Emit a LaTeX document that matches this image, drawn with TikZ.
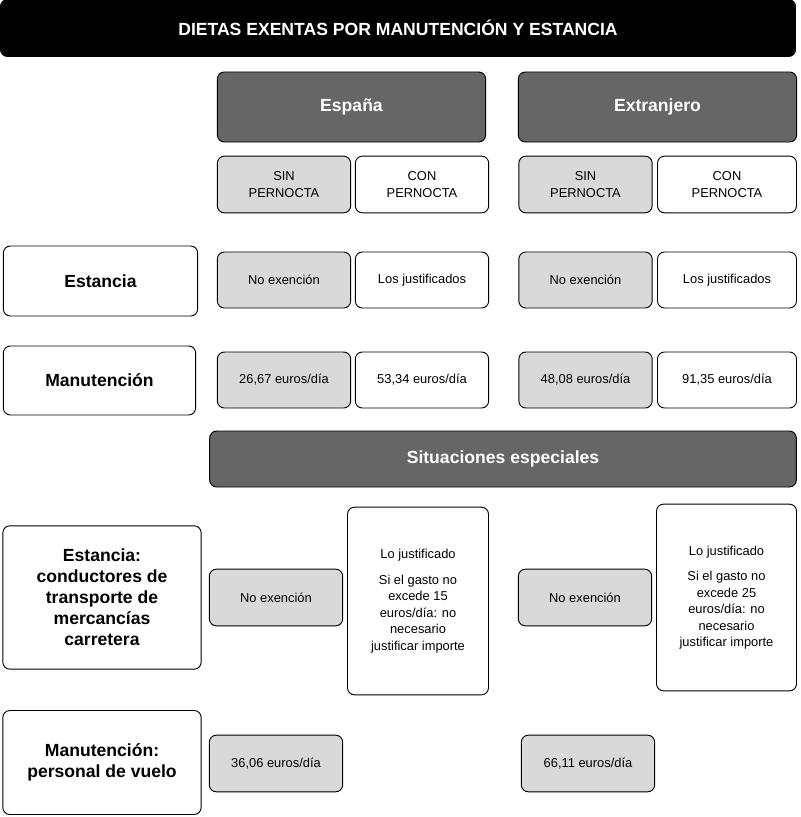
\documentclass[tikz,border=0pt]{standalone}
\usepackage{fontspec}
\setmainfont{Liberation Sans}
\begin{document}
\begin{tikzpicture}[x=0.03cm,y=-0.03cm,
  box/.style={draw=black,line width=0.8pt,rounded corners=6pt,align=center,font=\fontsize{11}{14}\selectfont},
  gray/.style={box,fill=gray!30},
  white/.style={box,fill=white},
  head/.style={box,fill=black!60,text=white,font=\fontsize{15}{18}\selectfont\bfseries},
  lab/.style={box,fill=white,font=\fontsize{15}{18}\selectfont\bfseries}]
\useasboundingbox (0,0) rectangle (800,817);
\newcommand\bx[6]{\node[#1,minimum width=#4*0.03cm-0.8pt,minimum height=#5*0.03cm-0.8pt,inner sep=1pt] (#6) at ({(#2+#4/2)},{(#3+#5/2)}) {\vphantom{}};}
% helper-free nodes
\node[box,fill=black,text=white,rounded corners=6pt,minimum width=23.85cm,minimum height=1.71cm,font=\fontsize{15}{18}\selectfont\bfseries] (title) at (398,28) {DIETAS EXENTAS POR MANUTENCIÓN Y ESTANCIA};
\node[head,minimum width=8.05cm,minimum height=2.1cm] (es) at (351.5,107) {España};
\node[head,minimum width=8.35cm,minimum height=2.1cm] (ex) at (657.5,107) {Extranjero};
\node[gray,minimum width=4.0cm,minimum height=1.7cm] (es1) at (284,184.5) {SIN\\PERNOCTA};
\node[white,minimum width=4.0cm,minimum height=1.7cm] (es2) at (422,184.5) {CON\\PERNOCTA};
\node[gray,minimum width=4.0cm,minimum height=1.7cm] (ex1) at (585.5,184.5) {SIN\\PERNOCTA};
\node[white,minimum width=4.17cm,minimum height=1.7cm] (ex2) at (727,184.5) {CON\\PERNOCTA};
\node[lab,minimum width=5.83cm,minimum height=2.1cm] (l1) at (100.5,281) {Estancia};
\node[gray,minimum width=4.0cm,minimum height=1.68cm] (a1) at (284,280) {No exención};
\node[white,minimum width=4.0cm,minimum height=1.68cm] (a2) at (422,280) {Los justificados};
\node[gray,minimum width=4.0cm,minimum height=1.68cm] (a3) at (585.5,280) {No exención};
\node[white,minimum width=4.17cm,minimum height=1.68cm] (a4) at (727,280) {Los justificados};
\node[lab,minimum width=5.77cm,minimum height=2.07cm] (l2) at (99.5,380.5) {Manutención};
\node[gray,minimum width=4.0cm,minimum height=1.68cm] (b1) at (284,380) {26,67 euros/día};
\node[white,minimum width=4.0cm,minimum height=1.68cm] (b2) at (422,380) {53,34 euros/día};
\node[gray,minimum width=4.0cm,minimum height=1.68cm] (b3) at (585.5,380) {48,08 euros/día};
\node[white,minimum width=4.17cm,minimum height=1.68cm] (b4) at (727,380) {91,35 euros/día};
\node[head,minimum width=17.6cm,minimum height=1.68cm] (sit) at (503,459) {Situaciones especiales};
\node[lab,minimum width=5.95cm,minimum height=4.3cm] (l3) at (102,597.5) {Estancia:\\conductores de\\transporte de\\mercancías\\carretera};
\node[gray,minimum width=4.0cm,minimum height=1.7cm] (c1) at (276,597.5) {No exención};
\node[white,minimum width=4.23cm,minimum height=5.63cm] (c2) at (418,601) {Lo justificado\\[8pt]Si el gasto no\\excede 15\\euros/día: no\\necesario\\justificar importe};
\node[gray,minimum width=4.0cm,minimum height=1.7cm] (c3) at (585,597.5) {No exención};
\node[white,minimum width=4.2cm,minimum height=5.6cm] (c4) at (726.5,597.5) {Lo justificado\\[8pt]Si el gasto no\\excede 25\\euros/día: no\\necesario\\justificar importe};
\node[lab,minimum width=5.95cm,minimum height=3.12cm] (l4) at (102,762.5) {Manutención:\\personal de vuelo};
\node[gray,minimum width=4.0cm,minimum height=1.7cm] (d1) at (276,763.5) {36,06 euros/día};
\node[gray,minimum width=4.0cm,minimum height=1.7cm] (d2) at (588,763.5) {66,11 euros/día};
\end{tikzpicture}
\end{document}
